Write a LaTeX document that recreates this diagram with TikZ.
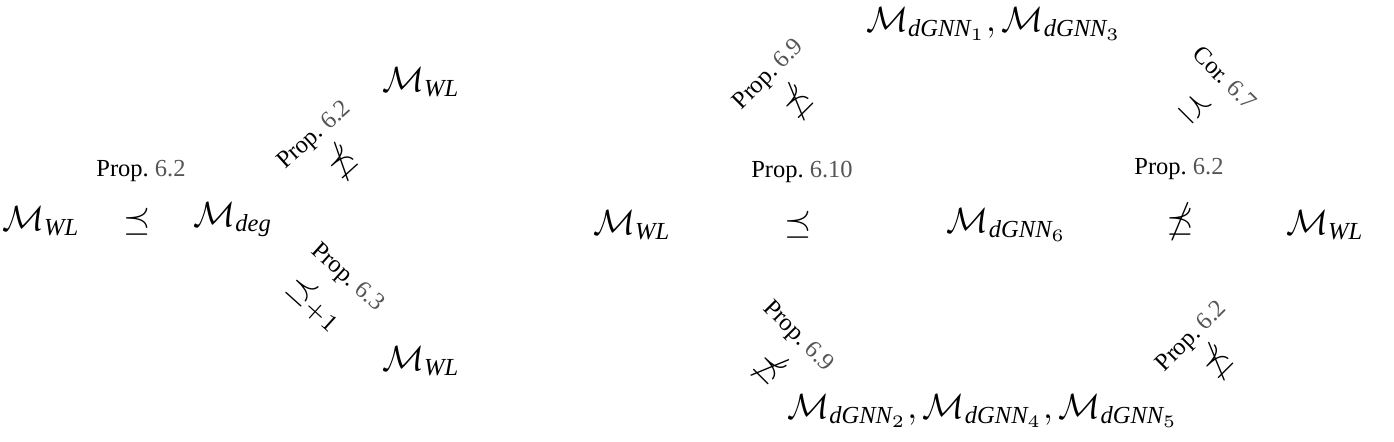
\documentclass[tikz,border=0pt]{standalone}
\usepackage{amsmath,amssymb}
\usepackage{fontspec}
\setmainfont{Liberation Serif}
\definecolor{refgray}{RGB}{85,85,85}
\newcommand{\pref}[2]{#1~\textcolor{refgray}{#2}}
\newcommand{\MWL}{\mathcal{M}_{\textit{WL}}}
\newcommand{\MG}[1]{\mathcal{M}_{\textit{dGNN}_{#1}}}
\begin{document}
\begin{tikzpicture}[x=0.2857pt,y=-0.2857pt,
  obj/.style={inner sep=0pt},
  rel/.style={inner sep=0pt},
  lab/.style={inner sep=0pt,font=\scriptsize}]
\useasboundingbox (0,0) rectangle (1394,442);
% left diagram
\node[obj] (A) at (41,221) {$\MWL$};
\node[obj] (B) at (233,220) {$\mathcal{M}_{\textit{deg}}$};
\node[obj] (C) at (421,82) {$\MWL$};
\node[obj] (D) at (421,361) {$\MWL$};
\node[rel] (s1) at (137,222) {$\preceq$};
\node[lab] (l1) at (141,171) {\pref{Prop.}{6.2}};
\node[rel,rotate=42] (s2) at (342,162) {$\npreceq$};
\node[lab,rotate=42] (l2) at (315,136) {\pref{Prop.}{6.2}};
\node[rel,rotate=-42] (s3) at (315,304) {$\preceq_{+1}$};
\node[lab,rotate=-42] (l3) at (347,278) {\pref{Prop.}{6.3}};
% right diagram
\node[obj] (E) at (632,225) {$\MWL$};
\node[obj] (F) at (1007,225) {$\MG{6}$};
\node[obj] (G) at (1325,225) {$\MWL$};
\node[obj] (H) at (994,24) {$\MG{1}, \MG{3}$};
\node[obj] (I) at (983,411) {$\MG{2}, \MG{4}, \MG{5}$};
\node[rel] (s4) at (798,225) {$\preceq$};
\node[lab] (l4) at (802,172) {\pref{Prop.}{6.10}};
\node[rel] (s5) at (1180,222) {$\npreceq$};
\node[lab] (l5) at (1179,169) {\pref{Prop.}{6.2}};
\node[rel,rotate=45] (s6) at (797,102) {$\npreceq$};
\node[lab,rotate=45] (l6) at (769,75) {\pref{Prop.}{6.9}};
\node[rel,rotate=-45] (s7) at (1195,107) {$\preceq$};
\node[lab,rotate=-45] (l7) at (1225,78) {\pref{Cor.}{6.7}};
\node[rel,rotate=-45] (s8) at (770,368) {$\npreceq$};
\node[lab,rotate=-45] (l8) at (798,337) {\pref{Prop.}{6.9}};
\node[rel,rotate=45] (s9) at (1217,362) {$\npreceq$};
\node[lab,rotate=45] (l9) at (1192,337) {\pref{Prop.}{6.2}};
\end{tikzpicture}
\end{document}
